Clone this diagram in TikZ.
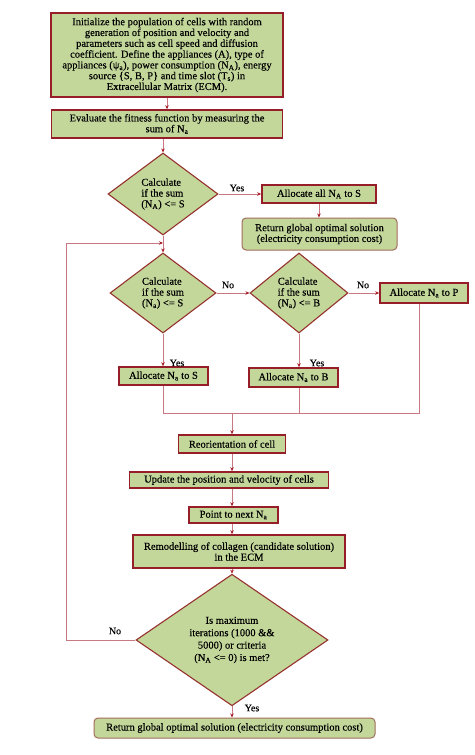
\documentclass[tikz,border=0pt]{standalone}
\usepackage{fontspec}
\setmainfont{Liberation Serif}[FakeBold=0.3]
\usetikzlibrary{shapes.geometric,arrows.meta}
\definecolor{boxfill}{RGB}{196,215,155}
\definecolor{boxline}{RGB}{150,30,40}
\definecolor{dline}{RGB}{150,50,45}
\definecolor{rline}{RGB}{160,110,90}
\definecolor{connc}{RGB}{200,120,130}
\definecolor{tipc}{RGB}{170,30,40}
\begin{document}
\begin{tikzpicture}[x=1pt,y=-1pt,
 font=\fontsize{10.5}{10.8}\selectfont,
 rbox/.style={draw=boxline,line width=1.6pt,fill=boxfill,inner sep=0pt,align=center},
 rrbox/.style={draw=rline,line width=1pt,fill=boxfill,rounded corners=4pt,inner sep=0pt,align=center},
 dia/.style={diamond,draw=dline,line width=1.1pt,fill=boxfill,inner sep=0pt,align=left},
 conn/.style={draw=connc,line width=0.8pt},
 arr/.style={conn,-{Stealth[length=4pt,width=3.5pt,color=tipc]}},
 lbl/.style={font=\fontsize{10}{10}\selectfont,inner sep=0pt}]
\useasboundingbox[fill=white] (0,0) rectangle (474,755);

\node[rbox,minimum width=232pt,minimum height=84pt] (init) at (167,55)
 {Initialize the population of cells with random\\
  generation of position and velocity and\\
  parameters such as cell speed and diffusion\\
  coefficient. Define the appliances (A), type of\\
  appliances (ψ\textsubscript{a}), power consumption (N\textsubscript{A}), energy\\
  source \{S, B, P\} and time slot (T\textsubscript{s}) in\\
  Extracellular Matrix (ECM).};
\node[rbox,minimum width=231pt,minimum height=28pt] (eval) at (167,124)
 {Evaluate the fitness function by measuring the\\ sum of N\textsubscript{a}};
\node[dia,minimum width=110pt,minimum height=82pt] (d1) at (163,194)
 {Calculate\\if the sum\\(N\textsubscript{A}) <= S};
\node[rbox,minimum width=114pt,minimum height=18pt] (allS) at (319,194)
 {Allocate all N\textsubscript{A} to S};
\node[rrbox,minimum width=155pt,minimum height=32pt] (ret1) at (319.5,234)
 {Return global optimal solution\\(electricity consumption cost)};
\coordinate (m1) at (163,243);
\coordinate (fbx) at (66,243);
\node[dia,minimum width=106pt,minimum height=80pt] (d2) at (163,293)
 {Calculate\\if the sum\\(N\textsubscript{a}) <= S};
\node[dia,minimum width=98pt,minimum height=80pt] (d3) at (299,293)
 {Calculate\\if the sum\\(N\textsubscript{a}) <= B};
\node[rbox,minimum width=88pt,minimum height=20pt] (boxP) at (424,293)
 {Allocate N\textsubscript{a} to P};
\node[rbox,minimum width=89pt,minimum height=18pt] (boxS) at (163.5,376)
 {Allocate N\textsubscript{a} to S};
\node[rbox,minimum width=89pt,minimum height=19pt] (boxB) at (293.5,377.5)
 {Allocate N\textsubscript{a} to B};
\coordinate (m2) at (232,413);
\node[rbox,minimum width=107pt,minimum height=18pt] (reor) at (232,444)
 {Reorientation of cell};
\node[rbox,minimum width=199pt,minimum height=16pt] (upd) at (229,480)
 {Update the position and velocity of cells};
\node[rbox,minimum width=89pt,minimum height=16pt] (pt) at (233.5,515)
 {Point to next N\textsubscript{a}};
\node[rbox,minimum width=212pt,minimum height=33pt] (rem) at (239,551.5)
 {Remodelling of collagen (candidate solution)\\in the ECM};
\node[dia,align=center,font=\fontsize{10.5}{12.4}\selectfont,minimum width=192pt,minimum height=114pt] (d4) at (232,640)
 {Is maximum\\iterations (1000 \&\&\\5000) or criteria\\(N\textsubscript{A} <= 0) is met?};
\node[rrbox,minimum width=281pt,minimum height=20pt] (fin) at (234.5,728)
 {Return global optimal solution (electricity consumption cost)};

\node[lbl] (y1) at (237,188) {Yes};
\node[lbl] (n1) at (228,285) {No};
\node[lbl] (n2) at (363,285) {No};
\node[lbl] (y2) at (177,363) {Yes};
\node[lbl] (y3) at (317,363) {Yes};
\node[lbl] (n3) at (115,631) {No};
\node[lbl] (y4) at (252,708) {Yes};

\draw[arr] (init.south) -- (init.south |- eval.north);
\draw[arr] (d1.north |- eval.south) -- (d1.north);
\draw[arr] (d1.east) -- (allS.west);
\draw[arr] (allS.south) -- (allS.south |- ret1.north);
\draw[arr] (d1.south) -- (d2.north);
\draw[arr] (d4.west) -| (fbx) -- (m1);
\draw[arr] (d2.east) -- (d3.west);
\draw[arr] (d3.east) -- (boxP.west);
\draw[arr] (d2.south) -- (d2.south |- boxS.north);
\draw[arr] (d3.south) -- (d3.south |- boxB.north);
\draw[conn] (d2.south |- boxS.south) |- (m2);
\draw[conn] (d3.south |- boxB.south) -- (d3.south |- m2);
\draw[conn] ([xshift=-5pt]boxP.south) |- (m2);
\draw[arr] (m2) -- (m2 |- reor.north);
\draw[arr] (m2 |- reor.south) -- (m2 |- upd.north);
\draw[arr] (m2 |- upd.south) -- (m2 |- pt.north);
\draw[arr] (m2 |- pt.south) -- (m2 |- rem.north);
\draw[arr] (d4.north |- rem.south) -- (d4.north);
\draw[arr] (d4.south) -- (d4.south |- fin.north);
\end{tikzpicture}
\end{document}
